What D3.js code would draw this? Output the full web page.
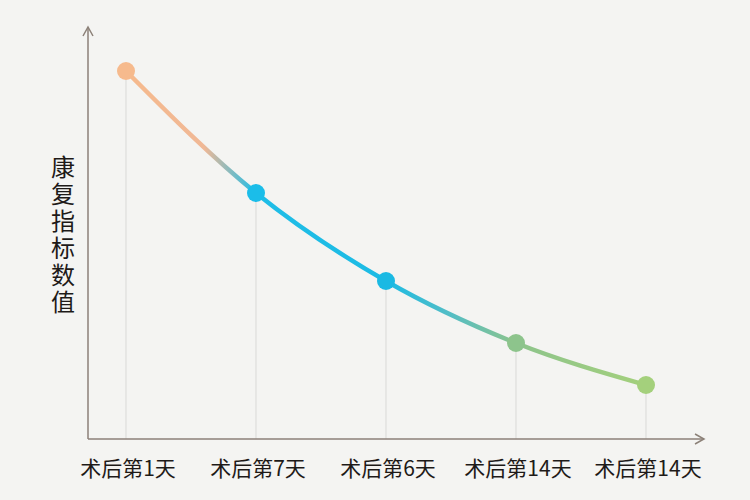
<!DOCTYPE html>
<html>
  <head>
    <meta charset="utf-8">
    <style>
      body { margin: 0; background: #f4f4f2; }
      svg { display: block; }
      text { font-family: "Noto Sans CJK SC", "Noto Sans", sans-serif; fill: #1e1a18; }
    </style>
  </head>
  <body>
    <script src="https://cdn.jsdelivr.net/npm/d3@7"></script>
    <script>
      var width = 750, height = 500;

      // data
      var categories = ["术后第1天", "术后第7天", "术后第6天", "术后第14天", "术后第14天 "];
      var values = [92, 61.5, 39.5, 24, 13.5];
      var pointColors = ["#f6ba8d", "#1bbde9", "#1ab9e3", "#8dc48c", "#a4d07c"];
      var yLabel = "康复指标数值";

      var data = categories.map(function (c, i) {
        return { cat: c, value: values[i], color: pointColors[i] };
      });

      var svg = d3.select("body").append("svg")
          .attr("width", width)
          .attr("height", height);

      var x = d3.scalePoint()
          .domain(categories)
          .range([126, 646]);

      var y = d3.scaleLinear()
          .domain([0, 100])
          .range([439, 39]);

      var axisX0 = 88, axisY0 = 439;
      var axisColor = "#8c8178";

      // gradient along the curve
      var defs = svg.append("defs");
      var grad = defs.append("linearGradient")
          .attr("id", "lineGrad")
          .attr("gradientUnits", "userSpaceOnUse")
          .attr("x1", x(categories[0])).attr("x2", x(categories[4]))
          .attr("y1", 0).attr("y2", 0);
      [[0, "#f6ba8d"], [0.15, "#f0b896"], [0.25, "#1fbde7"], [0.5, "#1cbbe4"], [0.62, "#52bdc6"], [0.75, "#8dc48c"], [1, "#a4d07c"]]
        .forEach(function (s) {
          grad.append("stop").attr("offset", s[0]).attr("stop-color", s[1]);
        });

      // drop lines
      svg.append("g").selectAll("line")
          .data(data)
          .enter()
          .append("line")
          .attr("x1", function (d) { return x(d.cat); })
          .attr("x2", function (d) { return x(d.cat); })
          .attr("y1", function (d) { return y(d.value); })
          .attr("y2", axisY0)
          .attr("stroke", "#d9d9d7")
          .attr("stroke-width", 1);

      // axes with open arrow heads
      svg.append("line")
          .attr("x1", axisX0).attr("y1", axisY0)
          .attr("x2", axisX0).attr("y2", 27)
          .attr("stroke", axisColor).attr("stroke-width", 1.5);
      svg.append("path")
          .attr("d", "M" + (axisX0 - 5) + "," + 36 + "L" + axisX0 + "," + 27 + "L" + (axisX0 + 5) + "," + 36)
          .attr("fill", "none").attr("stroke", axisColor).attr("stroke-width", 1.5);

      svg.append("line")
          .attr("x1", axisX0).attr("y1", axisY0)
          .attr("x2", 704).attr("y2", axisY0)
          .attr("stroke", axisColor).attr("stroke-width", 1.5);
      svg.append("path")
          .attr("d", "M" + 695 + "," + (axisY0 - 5) + "L" + 704 + "," + axisY0 + "L" + 695 + "," + (axisY0 + 5))
          .attr("fill", "none").attr("stroke", axisColor).attr("stroke-width", 1.5);

      // curve
      var line = d3.line()
          .x(function (d) { return x(d.cat); })
          .y(function (d) { return y(d.value); })
          .curve(d3.curveMonotoneX);

      svg.append("path")
          .datum(data)
          .attr("d", line)
          .attr("fill", "none")
          .attr("stroke", "url(#lineGrad)")
          .attr("stroke-width", 4.5)
          .attr("stroke-linecap", "round");

      // points
      svg.append("g").selectAll("circle")
          .data(data)
          .enter()
          .append("circle")
          .attr("cx", function (d) { return x(d.cat); })
          .attr("cy", function (d) { return y(d.value); })
          .attr("r", 9)
          .attr("fill", function (d) { return d.color; });

      // x labels
      svg.append("g").selectAll("text")
          .data(data)
          .enter()
          .append("text")
          .attr("x", function (d) { return x(d.cat) + 2; })
          .attr("y", 476)
          .attr("text-anchor", "middle")
          .attr("font-size", 21)
          .text(function (d) { return d.cat.trim(); });

      // vertical y label
      svg.append("text")
          .attr("x", 63)
          .attr("y", 155)
          .attr("font-size", 24)
          .style("writing-mode", "vertical-rl")
          .style("text-orientation", "upright")
          .style("letter-spacing", "3px")
          .text(yLabel);
    </script>
  </body>
</html>
